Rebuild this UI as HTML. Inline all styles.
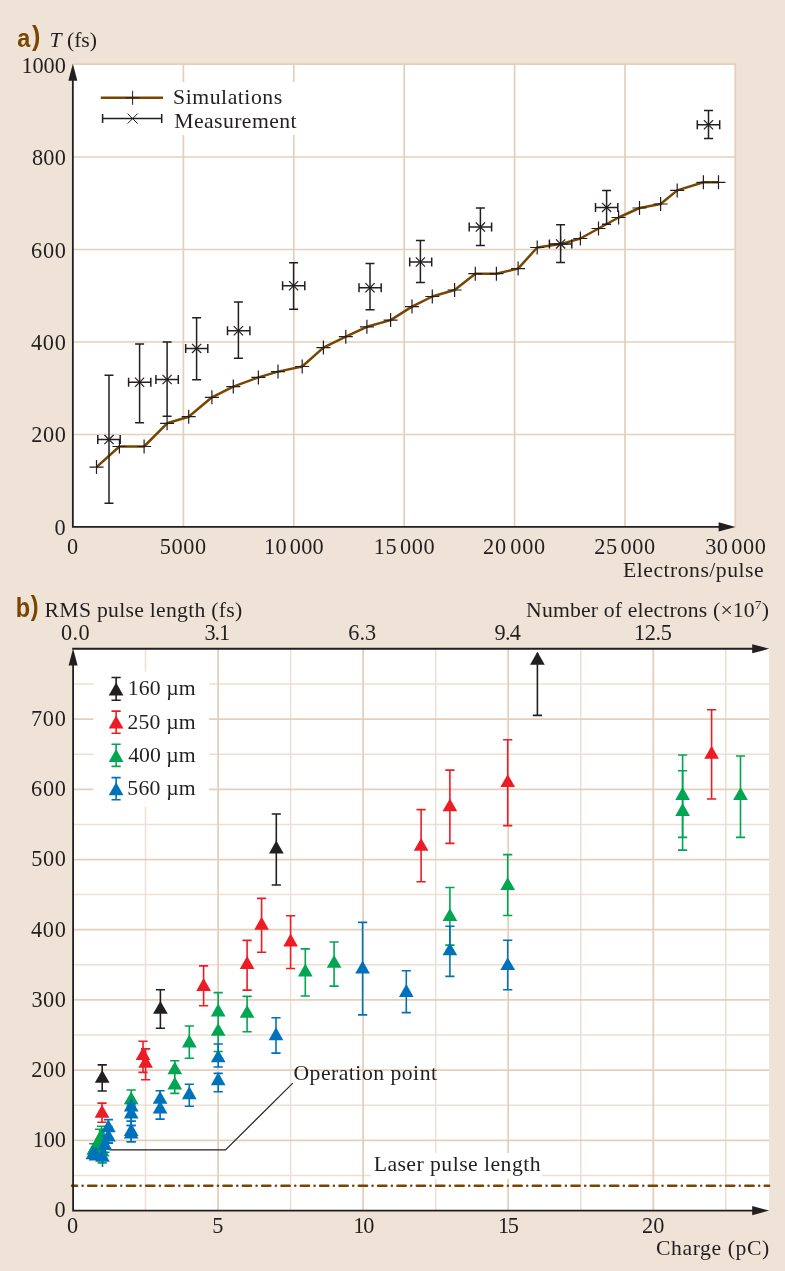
<!DOCTYPE html>
<html lang="en">
<head>
<meta charset="utf-8">
<title>Figure</title>
<style>
html,body{margin:0;padding:0;background:#EEE3D6;}
body{width:785px;height:1271px;overflow:hidden;}
svg{display:block;}
</style>
</head>
<body>
<svg width="785" height="1271" viewBox="0 0 785 1271">
<rect width="785" height="1271" fill="#EEE3D6"/>
<rect x="73.0" y="64.1" width="662.3" height="462.9" fill="#fff"/>
<path d="M183.4 64.1V527.0M293.8 64.1V527.0M404.2 64.1V527.0M514.6 64.1V527.0M625.0 64.1V527.0M735.3 64.1V527.0M73.0 434.5H736.1M73.0 342.0H736.1M73.0 249.5H736.1M73.0 157.0H736.1M73.0 64.1H736.1" stroke="#E4CFBA" stroke-width="1.7" fill="none"/>
<rect x="95" y="82" width="215" height="53" fill="#fff"/>
<polyline points="96.5,467.1 119.4,446.5 144.1,446.5 167.1,423.3 188.7,416.7 211.9,397.3 233.3,386.6 258.4,377.4 278,371.6 302.2,366.5 323.4,347.6 345.8,336.7 366.9,326.8 390.6,320.1 412,306.6 432.3,296.5 454.6,290 475.3,273.7 496.4,273.7 518.1,268.6 537.2,247.5 560.6,244.1 580.4,238.5 598.5,228.5 618.6,217.5 639.5,208 660.6,204 677.2,190.4 703.4,182.3 718.5,182.3" fill="none" stroke="#7A4500" stroke-width="2.5" stroke-linejoin="round"/>
<path d="M89.5 467.1h14M96.5 460.1v14M112.4 446.5h14M119.4 439.5v14M137.1 446.5h14M144.1 439.5v14M160.1 423.3h14M167.1 416.3v14M181.7 416.7h14M188.7 409.7v14M204.9 397.3h14M211.9 390.3v14M226.3 386.6h14M233.3 379.6v14M251.4 377.4h14M258.4 370.4v14M271.0 371.6h14M278 364.6v14M295.2 366.5h14M302.2 359.5v14M316.4 347.6h14M323.4 340.6v14M338.8 336.7h14M345.8 329.7v14M359.9 326.8h14M366.9 319.8v14M383.6 320.1h14M390.6 313.1v14M405.0 306.6h14M412 299.6v14M425.3 296.5h14M432.3 289.5v14M447.6 290h14M454.6 283.0v14M468.3 273.7h14M475.3 266.7v14M489.4 273.7h14M496.4 266.7v14M511.1 268.6h14M518.1 261.6v14M530.2 247.5h14M537.2 240.5v14M553.6 244.1h14M560.6 237.1v14M573.4 238.5h14M580.4 231.5v14M591.5 228.5h14M598.5 221.5v14M611.6 217.5h14M618.6 210.5v14M632.5 208h14M639.5 201.0v14M653.6 204h14M660.6 197.0v14M670.2 190.4h14M677.2 183.4v14M696.4 182.3h14M703.4 175.3v14M711.5 182.3h14M718.5 175.3v14" stroke="#231F20" stroke-width="1.2" fill="none"/>
<path d="M109 375.2V503.3M104.5 375.2h9M104.5 503.3h9M97.8 439.6H120.2M97.8 435.1v9M120.2 435.1v9M139.6 344.1V422.8M135.1 344.1h9M135.1 422.8h9M128.6 382.3H150.8M128.6 377.8v9M150.8 377.8v9M167.1 342V416.2M162.6 342h9M162.6 416.2h9M155.9 379.5H178.3M155.9 375.0v9M178.3 375.0v9M196.6 317.8V379.7M192.1 317.8h9M192.1 379.7h9M185.7 348.4H207.8M185.7 343.9v9M207.8 343.9v9M238.4 302V358.3M233.9 302h9M233.9 358.3h9M227.5 330.8H249.9M227.5 326.3v9M249.9 326.3v9M293.6 262.8V309.2M289.1 262.8h9M289.1 309.2h9M282.6 285.7H304.8M282.6 281.2v9M304.8 281.2v9M370 263.6V309.7M365.5 263.6h9M365.5 309.7h9M359 287.8H381.2M359 283.3v9M381.2 283.3v9M420.4 240.6V282.4M415.9 240.6h9M415.9 282.4h9M409.7 262H431.7M409.7 257.5v9M431.7 257.5v9M480.4 208V245.4M475.9 208h9M475.9 245.4h9M469.2 227.1H491.6M469.2 222.6v9M491.6 222.6v9M560.6 224.8V262.5M556.1 224.8h9M556.1 262.5h9M549.4 243.9H571.8M549.4 239.4v9M571.8 239.4v9M606.6 190.6V224.3M602.1 190.6h9M602.1 224.3h9M595.5 207.4H617.8M595.5 202.9v9M617.8 202.9v9M708.5 110.4V138.5M704.0 110.4h9M704.0 138.5h9M697.3 124.7H719.7M697.3 120.2v9M719.7 120.2v9" stroke="#231F20" stroke-width="1.5" fill="none"/>
<path d="M104.4 435.0l9.2 9.2M104.4 444.20000000000005l9.2 -9.2M135.0 377.7l9.2 9.2M135.0 386.90000000000003l9.2 -9.2M162.5 374.9l9.2 9.2M162.5 384.1l9.2 -9.2M192.0 343.79999999999995l9.2 9.2M192.0 353.0l9.2 -9.2M233.8 326.2l9.2 9.2M233.8 335.40000000000003l9.2 -9.2M289.0 281.09999999999997l9.2 9.2M289.0 290.3l9.2 -9.2M365.4 283.2l9.2 9.2M365.4 292.40000000000003l9.2 -9.2M415.79999999999995 257.4l9.2 9.2M415.79999999999995 266.6l9.2 -9.2M475.79999999999995 222.5l9.2 9.2M475.79999999999995 231.7l9.2 -9.2M556.0 239.3l9.2 9.2M556.0 248.5l9.2 -9.2M602.0 202.8l9.2 9.2M602.0 212.0l9.2 -9.2M703.9 120.10000000000001l9.2 9.2M703.9 129.3l9.2 -9.2" stroke="#231F20" stroke-width="1.2" fill="none"/>
<path d="M100.8 97.8H163" stroke="#7A4500" stroke-width="2.5" fill="none"/>
<path d="M125.6 97.8h14M132.6 90.8v14" stroke="#231F20" stroke-width="1" fill="none"/>
<path d="M102.6 118.6H161.7M102.6 114.1v9M161.7 114.1v9" stroke="#231F20" stroke-width="1.5" fill="none"/>
<path d="M127.6 113.6l10 10M127.6 123.6l10 -10" stroke="#231F20" stroke-width="1" fill="none"/>
<path d="M72.85 78V526.9H722" stroke="#231F20" stroke-width="1.8" fill="none"/>
<path d="M72.85 63.7l4.5 17.1h-9z" fill="#231F20"/>
<path d="M735.6 526.9l-17 4.6v-9.2z" fill="#231F20"/>
<rect x="73.0" y="649.0" width="696.1" height="561.5" fill="#fff"/>
<path d="M145.5 649.0V1210.5M290.6 649.0V1210.5M435.7 649.0V1210.5M580.8 649.0V1210.5M725.8 649.0V1210.5M73.0 1175.4H769.1M73.0 1105.2H769.1M73.0 1035.0H769.1M73.0 964.8H769.1M73.0 894.6H769.1M73.0 824.5H769.1M73.0 754.3H769.1M73.0 684.1H769.1" stroke="#EDE0D2" stroke-width="1.5" fill="none"/>
<path d="M218.1 649.0V1210.5M363.1 649.0V1210.5M508.2 649.0V1210.5M653.3 649.0V1210.5M73.0 1140.3H769.1M73.0 1070.1H769.1M73.0 999.9H769.1M73.0 929.7H769.1M73.0 859.5H769.1M73.0 789.4H769.1M73.0 719.2H769.1" stroke="#E4CFBA" stroke-width="1.75" fill="none"/>
<rect x="93.4" y="671.7" width="115.6" height="135" fill="#fff"/>
<rect x="371" y="1153" width="171" height="26" fill="#fff"/>
<path d="M72 1185.7H769.1" stroke="#7A4500" stroke-width="2.5" stroke-linecap="round" stroke-dasharray="8.3 5.47 0.1 5.46" stroke-dashoffset="3.2" fill="none"/>
<path d="M109.5 1149.85H225.5L292.8 1083.2" stroke="#231F20" stroke-width="1.1" fill="none"/>
<path d="M102.2 1064.9V1091M97.60000000000001 1064.9h9.2M97.60000000000001 1091h9.2" stroke="#231F20" stroke-width="1.6" fill="none"/><path d="M102.2 1069.90l7.35 12.9h-14.7z" fill="#231F20"/>
<path d="M160.4 989.7V1028.3M155.8 989.7h9.2M155.8 1028.3h9.2" stroke="#231F20" stroke-width="1.6" fill="none"/><path d="M160.4 1000.90l7.35 12.9h-14.7z" fill="#231F20"/>
<path d="M276.3 814V885M271.7 814h9.2M271.7 885h9.2" stroke="#231F20" stroke-width="1.6" fill="none"/><path d="M276.3 840.50l7.35 12.9h-14.7z" fill="#231F20"/>
<path d="M537.4 653V715.4M532.8 715.4h9.2" stroke="#231F20" stroke-width="1.6" fill="none"/><path d="M537.4 651.75l7.35 12.9h-14.7z" fill="#231F20"/>
<path d="M102 1103.1V1122.2M97.4 1103.1h9.2M97.4 1122.2h9.2" stroke="#ED1C24" stroke-width="1.6" fill="none"/><path d="M102 1104.80l7.35 12.9h-14.7z" fill="#ED1C24"/>
<path d="M143.0 1041.3V1072.4M138.4 1041.3h9.2M138.4 1072.4h9.2" stroke="#ED1C24" stroke-width="1.6" fill="none"/><path d="M143.0 1047.10l7.35 12.9h-14.7z" fill="#ED1C24"/>
<path d="M145.6 1048.9V1079.7M141.0 1048.9h9.2M141.0 1079.7h9.2" stroke="#ED1C24" stroke-width="1.6" fill="none"/><path d="M145.6 1054.90l7.35 12.9h-14.7z" fill="#ED1C24"/>
<path d="M203.6 965.9V1005.8M199.0 965.9h9.2M199.0 1005.8h9.2" stroke="#ED1C24" stroke-width="1.6" fill="none"/><path d="M203.6 978.10l7.35 12.9h-14.7z" fill="#ED1C24"/>
<path d="M247.1 940.4V990.1M242.5 940.4h9.2M242.5 990.1h9.2" stroke="#ED1C24" stroke-width="1.6" fill="none"/><path d="M247.1 956.00l7.35 12.9h-14.7z" fill="#ED1C24"/>
<path d="M261.6 898.4V952.2M257.0 898.4h9.2M257.0 952.2h9.2" stroke="#ED1C24" stroke-width="1.6" fill="none"/><path d="M261.6 916.80l7.35 12.9h-14.7z" fill="#ED1C24"/>
<path d="M290.6 915.8V968.5M286.0 915.8h9.2M286.0 968.5h9.2" stroke="#ED1C24" stroke-width="1.6" fill="none"/><path d="M290.6 933.50l7.35 12.9h-14.7z" fill="#ED1C24"/>
<path d="M421.1 809.6V881.7M416.5 809.6h9.2M416.5 881.7h9.2" stroke="#ED1C24" stroke-width="1.6" fill="none"/><path d="M421.1 837.90l7.35 12.9h-14.7z" fill="#ED1C24"/>
<path d="M449.9 770.1V843.4M445.29999999999995 770.1h9.2M445.29999999999995 843.4h9.2" stroke="#ED1C24" stroke-width="1.6" fill="none"/><path d="M449.9 798.40l7.35 12.9h-14.7z" fill="#ED1C24"/>
<path d="M507.7 739.7V825.6M503.09999999999997 739.7h9.2M503.09999999999997 825.6h9.2" stroke="#ED1C24" stroke-width="1.6" fill="none"/><path d="M507.7 774.20l7.35 12.9h-14.7z" fill="#ED1C24"/>
<path d="M711.6 709.7V799M707.0 709.7h9.2M707.0 799h9.2" stroke="#ED1C24" stroke-width="1.6" fill="none"/><path d="M711.6 745.80l7.35 12.9h-14.7z" fill="#ED1C24"/>
<path d="M218.2 992.6V1024M213.6 992.6h9.2" stroke="#00A651" stroke-width="1.6" fill="none"/><path d="M218.2 1003.50l7.35 12.9h-14.7z" fill="#00A651"/>
<path d="M218.2 1024V1051.5M213.6 1051.5h9.2" stroke="#00A651" stroke-width="1.6" fill="none"/><path d="M218.2 1022.90l7.35 12.9h-14.7z" fill="#00A651"/>
<path d="M247.1 996.4V1031.7M242.5 996.4h9.2M242.5 1031.7h9.2" stroke="#00A651" stroke-width="1.6" fill="none"/><path d="M247.1 1004.90l7.35 12.9h-14.7z" fill="#00A651"/>
<path d="M189.3 1026V1058.2M184.70000000000002 1026h9.2M184.70000000000002 1058.2h9.2" stroke="#00A651" stroke-width="1.6" fill="none"/><path d="M189.3 1034.50l7.35 12.9h-14.7z" fill="#00A651"/>
<path d="M174.8 1060.7V1082M170.20000000000002 1060.7h9.2" stroke="#00A651" stroke-width="1.6" fill="none"/><path d="M174.8 1061.40l7.35 12.9h-14.7z" fill="#00A651"/>
<path d="M174.8 1082V1093.4M170.20000000000002 1093.4h9.2" stroke="#00A651" stroke-width="1.6" fill="none"/><path d="M174.8 1076.70l7.35 12.9h-14.7z" fill="#00A651"/>
<path d="M131.2 1090V1106M126.6 1090h9.2M126.6 1106h9.2" stroke="#00A651" stroke-width="1.6" fill="none"/><path d="M131.2 1091.40l7.35 12.9h-14.7z" fill="#00A651"/>
<path d="M305.3 948.9V996M300.7 948.9h9.2M300.7 996h9.2" stroke="#00A651" stroke-width="1.6" fill="none"/><path d="M305.3 963.50l7.35 12.9h-14.7z" fill="#00A651"/>
<path d="M334.1 942V986.1M329.5 942h9.2M329.5 986.1h9.2" stroke="#00A651" stroke-width="1.6" fill="none"/><path d="M334.1 954.90l7.35 12.9h-14.7z" fill="#00A651"/>
<path d="M449.9 887.5V945.1M445.29999999999995 887.5h9.2M445.29999999999995 945.1h9.2" stroke="#00A651" stroke-width="1.6" fill="none"/><path d="M449.9 908.20l7.35 12.9h-14.7z" fill="#00A651"/>
<path d="M507.7 854.6V915.5M503.09999999999997 854.6h9.2M503.09999999999997 915.5h9.2" stroke="#00A651" stroke-width="1.6" fill="none"/><path d="M507.7 877.20l7.35 12.9h-14.7z" fill="#00A651"/>
<path d="M682.6 755V837.4M678.0 755h9.2M678.0 837.4h9.2" stroke="#00A651" stroke-width="1.6" fill="none"/><path d="M682.6 787.10l7.35 12.9h-14.7z" fill="#00A651"/>
<path d="M682.6 770.7V850.1M678.0 770.7h9.2M678.0 850.1h9.2" stroke="#00A651" stroke-width="1.6" fill="none"/><path d="M682.6 803.00l7.35 12.9h-14.7z" fill="#00A651"/>
<path d="M740.5 756V837.4M735.9 756h9.2M735.9 837.4h9.2" stroke="#00A651" stroke-width="1.6" fill="none"/><path d="M740.5 787.10l7.35 12.9h-14.7z" fill="#00A651"/>
<path d="M101.6 1126.2V1144M97.0 1126.2h9.2M97.0 1144h9.2" stroke="#00A651" stroke-width="1.6" fill="none"/><path d="M101.6 1127.60l7.35 12.9h-14.7z" fill="#00A651"/>
<path d="M99.6 1129.3V1148M95.0 1129.3h9.2M95.0 1148h9.2" stroke="#00A651" stroke-width="1.6" fill="none"/><path d="M99.6 1132.10l7.35 12.9h-14.7z" fill="#00A651"/>
<path d="M97.2 1140V1153M92.60000000000001 1153h9.2" stroke="#00A651" stroke-width="1.6" fill="none"/><path d="M97.2 1137.10l7.35 12.9h-14.7z" fill="#00A651"/>
<path d="M95.2 1143V1156M90.60000000000001 1156h9.2" stroke="#00A651" stroke-width="1.6" fill="none"/><path d="M95.2 1140.10l7.35 12.9h-14.7z" fill="#00A651"/>
<path d="M93.8 1143.7V1157M89.2 1143.7h9.2M89.2 1157h9.2" stroke="#00A651" stroke-width="1.6" fill="none"/><path d="M93.8 1141.80l7.35 12.9h-14.7z" fill="#00A651"/>
<path d="M99.5 1146V1158M94.9 1158h9.2" stroke="#00A651" stroke-width="1.6" fill="none"/><path d="M99.5 1142.90l7.35 12.9h-14.7z" fill="#00A651"/>
<path d="M102.2 1148V1162.9M97.60000000000001 1162.9h9.2" stroke="#00A651" stroke-width="1.6" fill="none"/><path d="M102.2 1143.60l7.35 12.9h-14.7z" fill="#00A651"/>
<path d="M218.2 1044V1067M213.6 1044h9.2M213.6 1067h9.2" stroke="#0072BC" stroke-width="1.6" fill="none"/><path d="M218.2 1049.40l7.35 12.9h-14.7z" fill="#0072BC"/>
<path d="M218.2 1073.4V1091.8M213.6 1073.4h9.2M213.6 1091.8h9.2" stroke="#0072BC" stroke-width="1.6" fill="none"/><path d="M218.2 1072.30l7.35 12.9h-14.7z" fill="#0072BC"/>
<path d="M276 1017.7V1053.1M271.4 1017.7h9.2M271.4 1053.1h9.2" stroke="#0072BC" stroke-width="1.6" fill="none"/><path d="M276 1027.30l7.35 12.9h-14.7z" fill="#0072BC"/>
<path d="M189.3 1084.2V1106.2M184.70000000000002 1084.2h9.2M184.70000000000002 1106.2h9.2" stroke="#0072BC" stroke-width="1.6" fill="none"/><path d="M189.3 1086.30l7.35 12.9h-14.7z" fill="#0072BC"/>
<path d="M160.1 1090.7V1108M155.5 1090.7h9.2" stroke="#0072BC" stroke-width="1.6" fill="none"/><path d="M160.1 1090.90l7.35 12.9h-14.7z" fill="#0072BC"/>
<path d="M160.1 1104V1119.1M155.5 1119.1h9.2" stroke="#0072BC" stroke-width="1.6" fill="none"/><path d="M160.1 1100.50l7.35 12.9h-14.7z" fill="#0072BC"/>
<path d="M131.2 1099.5V1121.2M126.6 1121.2h9.2" stroke="#0072BC" stroke-width="1.6" fill="none"/><path d="M131.2 1098.50l7.35 12.9h-14.7z" fill="#0072BC"/>
<path d="M131.2 1104V1125.5M126.6 1104h9.2M126.6 1125.5h9.2" stroke="#0072BC" stroke-width="1.6" fill="none"/><path d="M131.2 1105.60l7.35 12.9h-14.7z" fill="#0072BC"/>
<path d="M131.2 1121.2V1141.7M126.6 1121.2h9.2M126.6 1141.7h9.2" stroke="#0072BC" stroke-width="1.6" fill="none"/><path d="M131.2 1123.00l7.35 12.9h-14.7z" fill="#0072BC"/>
<path d="M131.2 1125.5V1141.7M126.6 1125.5h9.2M126.6 1141.7h9.2" stroke="#0072BC" stroke-width="1.6" fill="none"/><path d="M131.2 1125.70l7.35 12.9h-14.7z" fill="#0072BC"/>
<path d="M362.6 922.4V1014.9M358.0 922.4h9.2M358.0 1014.9h9.2" stroke="#0072BC" stroke-width="1.6" fill="none"/><path d="M362.6 960.50l7.35 12.9h-14.7z" fill="#0072BC"/>
<path d="M406.3 970.7V1012.6M401.7 970.7h9.2M401.7 1012.6h9.2" stroke="#0072BC" stroke-width="1.6" fill="none"/><path d="M406.3 984.10l7.35 12.9h-14.7z" fill="#0072BC"/>
<path d="M449.9 926.2V976.4M445.29999999999995 926.2h9.2M445.29999999999995 976.4h9.2" stroke="#0072BC" stroke-width="1.6" fill="none"/><path d="M449.9 942.40l7.35 12.9h-14.7z" fill="#0072BC"/>
<path d="M507.7 940.3V989.7M503.09999999999997 940.3h9.2M503.09999999999997 989.7h9.2" stroke="#0072BC" stroke-width="1.6" fill="none"/><path d="M507.7 957.20l7.35 12.9h-14.7z" fill="#0072BC"/>
<path d="M108.4 1119.6V1143.1M103.80000000000001 1119.6h9.2M103.80000000000001 1143.1h9.2" stroke="#0072BC" stroke-width="1.6" fill="none"/><path d="M108.4 1119.40l7.35 12.9h-14.7z" fill="#0072BC"/>
<path d="M108.4 1127V1143.1M103.80000000000001 1127h9.2M103.80000000000001 1143.1h9.2" stroke="#0072BC" stroke-width="1.6" fill="none"/><path d="M108.4 1128.60l7.35 12.9h-14.7z" fill="#0072BC"/>
<path d="M104.9 1136V1152.3M100.30000000000001 1136h9.2M100.30000000000001 1152.3h9.2" stroke="#0072BC" stroke-width="1.6" fill="none"/><path d="M104.9 1137.20l7.35 12.9h-14.7z" fill="#0072BC"/>
<path d="M92.9 1146V1159" stroke="#0072BC" stroke-width="1.6" fill="none"/><path d="M92.9 1146.30l7.35 12.9h-14.7z" fill="#0072BC"/>
<path d="M96 1147V1160" stroke="#0072BC" stroke-width="1.6" fill="none"/><path d="M96 1147.60l7.35 12.9h-14.7z" fill="#0072BC"/>
<path d="M102.5 1148V1166.9" stroke="#0072BC" stroke-width="1.6" fill="none"/><path d="M102.5 1148.90l7.35 12.9h-14.7z" fill="#0072BC"/>
<path d="M116.1 677.5V700.2M111.5 677.5h9.2M111.5 700.2h9.2" stroke="#231F20" stroke-width="1.6" fill="none"/><path d="M116.1 682.50l7.35 12.9h-14.7z" fill="#231F20"/>
<path d="M116.1 711.1V733.3M111.5 711.1h9.2M111.5 733.3h9.2" stroke="#ED1C24" stroke-width="1.6" fill="none"/><path d="M116.1 715.60l7.35 12.9h-14.7z" fill="#ED1C24"/>
<path d="M116.1 744.3V766.4M111.5 744.3h9.2M111.5 766.4h9.2" stroke="#00A651" stroke-width="1.6" fill="none"/><path d="M116.1 749.10l7.35 12.9h-14.7z" fill="#00A651"/>
<path d="M116.1 777.6V799.8M111.5 777.6h9.2M111.5 799.8h9.2" stroke="#0072BC" stroke-width="1.6" fill="none"/><path d="M116.1 782.30l7.35 12.9h-14.7z" fill="#0072BC"/>
<path d="M73.1 662V1210.6H755M72.2 648.75H755" stroke="#231F20" stroke-width="1.8" fill="none"/>
<path d="M73.1 648.4l4.5 17.2h-9z" fill="#231F20"/>
<path d="M769.2 1210.6l-17 4.6v-9.2z" fill="#231F20"/>
<path d="M769.2 648.75l-17 4.6v-9.2z" fill="#231F20"/>
<g font-family="'Liberation Serif', serif" font-size="21.7" fill="#231F20">
<text x="21.40" y="72.9" font-size="22.3" letter-spacing="-0.050">1000</text>
<text x="31.92" y="165.2" font-size="22.3" letter-spacing="0.225">800</text>
<text x="31.10" y="258.0" font-size="22.3" letter-spacing="0.637">600</text>
<text x="30.93" y="350.0" font-size="22.3" letter-spacing="0.725">400</text>
<text x="31.30" y="442.4" font-size="22.3" letter-spacing="0.538">200</text>
<text x="54.44" y="534.7" font-size="22.3">0</text>
<text x="67.04" y="554.0" font-size="22.3">0</text>
<text x="159.65" y="554.0" font-size="22.3" letter-spacing="0.600">5000</text>
<text x="264.10" y="554.0" font-size="22.3" letter-spacing="0.335">10 <tspan dx="-2.2">000</tspan></text>
<text x="373.80" y="554.0" font-size="22.3" letter-spacing="0.555">15 <tspan dx="-2.2">000</tspan></text>
<text x="483.10" y="554.0" font-size="22.3" letter-spacing="0.835">20 <tspan dx="-2.2">000</tspan></text>
<text x="594.20" y="554.0" font-size="22.3" letter-spacing="0.595">25 <tspan dx="-2.2">000</tspan></text>
<text x="705.17" y="554.0" font-size="22.3" letter-spacing="0.520">30 <tspan dx="-2.2">000</tspan></text>
<text x="623.08" y="577.1" letter-spacing="0.480">Electrons/pulse</text>
<text x="49.50" y="46.5" letter-spacing="-0.025"><tspan font-style="italic">T</tspan> (fs)</text>
<text x="173.10" y="103.9" letter-spacing="0.542">Simulations</text>
<text x="174.18" y="127.6" letter-spacing="0.443">Measurement</text>
<text x="44.58" y="616.6" letter-spacing="0.278">RMS pulse length (fs)</text>
<text x="526.08" y="616.6" letter-spacing="0.165">Number of electrons (×10<tspan dy="-7.5" font-size="13.5">7</tspan><tspan dy="7.5">)</tspan></text>
<text x="61.02" y="640.0" font-size="22.3" letter-spacing="0.338">0.0</text>
<text x="204.47" y="640.0" font-size="22.3" letter-spacing="-1.087">3.1</text>
<text x="348.20" y="640.0" font-size="22.3" letter-spacing="0.100">6.3</text>
<text x="494.55" y="640.0" font-size="22.3" letter-spacing="-0.775">9.4</text>
<text x="634.00" y="640.0" font-size="22.3" letter-spacing="-0.342">12.5</text>
<text x="32.80" y="1147.11" font-size="22.3" letter-spacing="-0.163">100</text>
<text x="31.30" y="1076.9199999999998" font-size="22.3" letter-spacing="0.587">200</text>
<text x="31.48" y="1006.73" font-size="22.3" letter-spacing="0.500">300</text>
<text x="30.93" y="936.54" font-size="22.3" letter-spacing="0.775">400</text>
<text x="31.35" y="866.3499999999999" font-size="22.3" letter-spacing="0.562">500</text>
<text x="31.10" y="796.16" font-size="22.3" letter-spacing="0.687">600</text>
<text x="30.90" y="725.97" font-size="22.3" letter-spacing="0.787">700</text>
<text x="54.39" y="1217.0" font-size="22.3">0</text>
<text x="67.04" y="1233.1" font-size="22.3">0</text>
<text x="212.35" y="1233.1" font-size="22.3">5</text>
<text x="353.20" y="1233.1" font-size="22.3" letter-spacing="-1.200">10</text>
<text x="498.10" y="1233.1" font-size="22.3" letter-spacing="-1.375">15</text>
<text x="642.10" y="1233.1" font-size="22.3" letter-spacing="-0.100">20</text>
<text x="655.92" y="1255.0" letter-spacing="0.598">Charge (pC)</text>
<text x="127.72" y="695.4" letter-spacing="0.135">160 µm</text>
<text x="127.60" y="728.5" letter-spacing="0.160">250 µm</text>
<text x="128.22" y="761.6" letter-spacing="0.035">400 µm</text>
<text x="127.35" y="794.7" letter-spacing="0.210">560 µm</text>
<text x="293.43" y="1080.3" letter-spacing="0.489">Operation point</text>
<text x="373.68" y="1171.4" letter-spacing="0.463">Laser pulse length</text>
</g>
<g font-family="'Liberation Sans', sans-serif" font-size="27" font-weight="bold" fill="#7A4500">
<text transform="translate(17.2 46.5) scale(0.93 1)"><tspan font-size="25.2">a</tspan><tspan dx="1.8" dy="-1.5">)</tspan></text>
<text transform="translate(15.7 616.6) scale(0.87 1)">b<tspan dx="0.8" dy="-1.5">)</tspan></text>
</g>
</svg>
</body>
</html>
